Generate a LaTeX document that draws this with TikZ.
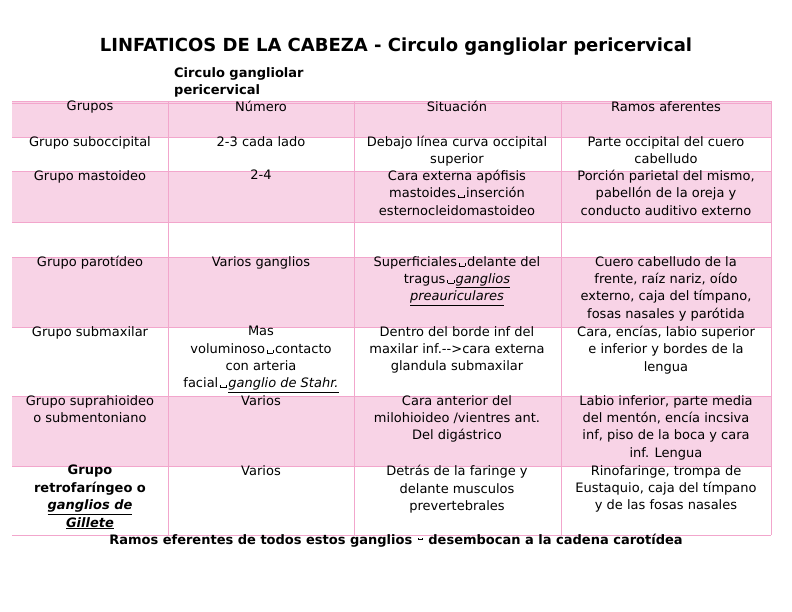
\documentclass[tikz,border=0pt]{standalone}
\usepackage{fontspec}
\setmainfont{DejaVu Sans}
\definecolor{pk}{HTML}{F8D3E6}
\definecolor{pl}{HTML}{F2A6CC}
\newcommand\gbx{\kern1.5pt\rule{0.5pt}{3pt}\rule{6pt}{0.5pt}\rule{0.5pt}{3pt}\kern1.5pt}
\begin{document}
\begin{tikzpicture}[x=1pt,y=-1pt,
  cell/.style={anchor=north,align=center,font=\fontsize{13}{17.4}\selectfont,inner sep=0pt},
  grid/.style={draw=pl,line width=0.7pt}]
\useasboundingbox (0,0) rectangle (792,612);
\foreach \a/\b in {101/137,171/222,257/327,396/466}{\fill[pk] (12,\a) rectangle (771,\b);}
\foreach \y in {101,137,171,222,257,327,396,466,535}{\draw[grid] (12,\y) -- (771,\y);}
\draw[grid] (12,103) -- (771,103);
\foreach \x in {168,354,561,771}{\draw[grid] (\x,101) -- (\x,535);}
\node[font=\bfseries\fontsize{18}{20}\selectfont] (t) at (396,47) {LINFATICOS DE LA CABEZA - Circulo gangliolar pericervical};
\node[anchor=north west,align=left,font=\bfseries\fontsize{13}{17}\selectfont,inner sep=0pt] (s) at (174,67) {Circulo gangliolar\\pericervical};
\node[cell] (h1) at (90,101) {Grupos};
\node[cell] (h2) at (261,101) {Número};
\node[cell] (h3) at (457,101) {Situación};
\node[cell] (h4) at (666,101) {Ramos aferentes};
\node[cell] (a1) at (90,136) {Grupo suboccipital};
\node[cell] (b1) at (261,136) {2-3 cada lado};
\node[cell] (c1) at (457,136) {Debajo línea curva occipital\\superior};
\node[cell] (d1) at (666,136) {Parte occipital del cuero\\cabelludo};
\node[cell] (a2) at (90,170) {Grupo mastoideo};
\node[cell] (b2) at (261,170) {2-4};
\node[cell] (c2) at (457,170) {Cara externa apófisis\\mastoides\gbx inserción\\esternocleidomastoideo};
\node[cell] (d2) at (666,170) {Porción parietal del mismo,\\pabellón de la oreja y\\conducto auditivo externo};
\node[cell] (a4) at (90,256) {Grupo parotídeo};
\node[cell] (b4) at (261,256) {Varios ganglios};
\node[cell] (c4) at (457,256) {Superficiales\gbx delante del\\tragus\gbx\underline{\textit{ganglios}}\\\underline{\textit{preauriculares}}};
\node[cell] (d4) at (666,256) {Cuero cabelludo de la\\frente, raíz nariz, oído\\externo, caja del tímpano,\\fosas nasales y parótida};
\node[cell] (a5) at (90,326) {Grupo submaxilar};
\node[cell] (b5) at (261,326) {Mas\\voluminoso\gbx contacto\\con arteria\\facial\gbx\underline{\textit{ganglio de Stahr.}}};
\node[cell] (c5) at (457,326) {Dentro del borde inf del\\maxilar inf.-{}-{}>cara externa\\glandula submaxilar};
\node[cell] (d5) at (666,326) {Cara, encías, labio superior\\e inferior y bordes de la\\lengua};
\node[cell] (a6) at (90,395) {Grupo suprahioideo\\o submentoniano};
\node[cell] (b6) at (261,395) {Varios};
\node[cell] (c6) at (457,395) {Cara anterior del\\milohioideo /vientres ant.\\Del digástrico};
\node[cell] (d6) at (666,395) {Labio inferior, parte media\\del mentón, encía incsiva\\inf, piso de la boca y cara\\inf. Lengua};
\node[cell] (a7) at (90,465) {\textbf{Grupo}\\\textbf{retrofaríngeo o}\\\textbf{\underline{\textit{ganglios de}}}\\\textbf{\underline{\textit{Gillete}}}};
\node[cell] (b7) at (261,465) {Varios};
\node[cell] (c7) at (457,465) {Detrás de la faringe y\\delante musculos\\prevertebrales};
\node[cell] (d7) at (666,465) {Rinofaringe, trompa de\\Eustaquio, caja del tímpano\\y de las fosas nasales};
\node[cell,font=\bfseries\fontsize{13}{17}\selectfont] (f) at (396,534) {Ramos eferentes de todos estos ganglios \raisebox{5pt}{\scalebox{0.7}{\gbx}} desembocan a la cadena carotídea};
\end{tikzpicture}
\end{document}
